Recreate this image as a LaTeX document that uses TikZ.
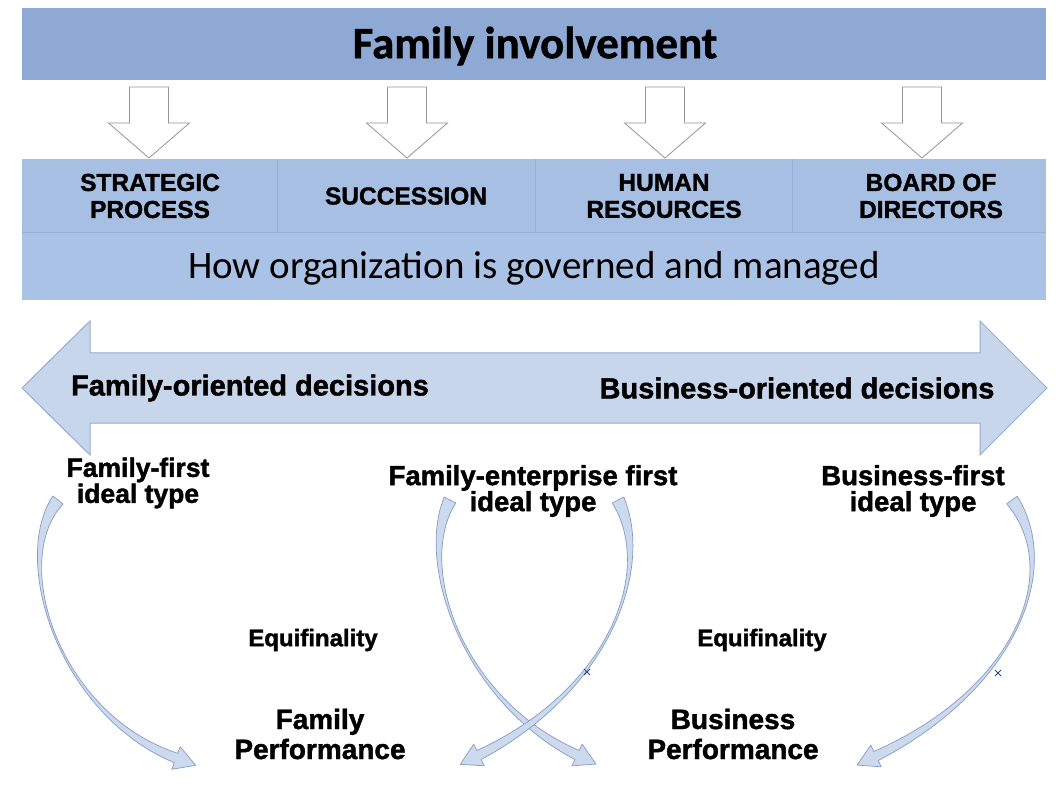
\documentclass[tikz,border=0pt]{standalone}
\usepackage{fontspec}
\setmainfont{Liberation Sans}[BoldFeatures={FakeBold=1.5}]
\newfontfamily\calib{Carlito}[BoldFeatures={FakeBold=1}]
\usetikzlibrary{calc}
\definecolor{bandA}{RGB}{142,169,212}
\definecolor{bandB}{RGB}{167,191,227}
\definecolor{bandC}{RGB}{170,194,229}
\definecolor{dfill}{RGB}{200,214,236}
\definecolor{dline}{RGB}{150,172,210}
\definecolor{cfill}{RGB}{205,218,238}
\definecolor{cline}{RGB}{130,155,200}
\definecolor{mark}{RGB}{40,70,150}
\tikzset{
  downarr/.style={fill=white,draw={rgb,255:red,150;green,150;blue,150},line width=0.8pt,line join=miter},
  dbl/.style={fill=dfill,draw=dline,line width=1pt},
  carrow/.style={fill=cfill,draw=cline,line width=0.7pt,line join=round},
  lbl/.style={font=\bfseries\fontsize{27}{26}\selectfont,align=center,inner sep=0pt},
  cell/.style={font=\bfseries\fontsize{24.5}{27}\selectfont,align=center,inner sep=0pt},
  eq/.style={font=\bfseries\fontsize{24}{24}\selectfont,inner sep=0pt},
  perf/.style={font=\bfseries\fontsize{28}{30}\selectfont,align=center,inner sep=0pt},
  xmark/.style={draw=mark,line width=1pt}
}
\newcommand\downblock[1]{%
  \draw[downarr] (#1-19.5,87) -- (#1+19.5,87) -- (#1+19.5,123) -- (#1+40.5,123)
    -- (#1,158) -- (#1-40.5,123) -- (#1-19.5,123) -- cycle;}
\newcommand\curvedblock[4]{%
  \begin{scope}
  \coordinate (p0) at #1; \coordinate (p1) at #2;
  \coordinate (p2) at #3; \coordinate (p3) at #4;
  \coordinate (l0) at ($(p0)!6.5pt!90:(p1)$);
  \coordinate (r0) at ($(p0)!6.5pt!-90:(p1)$);
  \coordinate (l3) at ($(p3)!5pt!-90:(p2)$);
  \coordinate (r3) at ($(p3)!5pt!90:(p2)$);
  \coordinate (h1) at ($(p3)!12pt!-90:(p2)$);
  \coordinate (h2) at ($(p3)!12pt!90:(p2)$);
  \coordinate (tp) at ($(p3)!-21pt!(p2)$);
  \draw[carrow] (l0) .. controls (p1) and (p2) .. (l3) -- (h1) -- (tp) -- (h2)
     -- (r3) .. controls (p2) and (p1) .. (r0) -- cycle;
  \end{scope}}
\begin{document}
\begin{tikzpicture}[x=1pt,y=-1pt]
\useasboundingbox (0,0) rectangle (1058,794);
\fill[white] (0,0) rectangle (1058,794);
% top band
\fill[bandA] (22,8) rectangle (1046,80);
\node[font=\calib\bfseries\fontsize{45}{45}\selectfont,inner sep=0pt] (fi) at (535,46) {Family involvement};
% down arrows
\downblock{149}
\downblock{407}
\downblock{665}
\downblock{922}
% cells band
\fill[bandB] (22,159) rectangle (1046,232);
\fill[bandC] (22,232) rectangle (1046,300);
\draw[dline,line width=0.8pt] (22,232) -- (1046,232);
\draw[dline,line width=0.8pt] (277,159) -- (277,232);
\draw[dline,line width=0.8pt] (535,159) -- (535,232);
\draw[dline,line width=0.8pt] (792,159) -- (792,232);
\node[cell] (c1) at (150,196) {STRATEGIC\\PROCESS};
\node[cell] (c2) at (406,196) {SUCCESSION};
\node[cell] (c3) at (664,196) {HUMAN\\RESOURCES};
\node[cell] (c4) at (931,196) {BOARD OF\\DIRECTORS};
\node[font=\calib\fontsize{39}{39}\selectfont,inner sep=0pt] (gov) at (534,268) {How organization is governed and managed};
% double arrow
\draw[dbl] (22,388) -- (90,321) -- (90,353) -- (980,353) -- (980,321) -- (1047,388)
  -- (980,455) -- (980,423) -- (90,423) -- (90,455) -- cycle;
\node[font=\bfseries\fontsize{29}{29}\selectfont,inner sep=0pt] (fod) at (250,388) {Family-oriented decisions};
\node[font=\bfseries\fontsize{29}{29}\selectfont,inner sep=0pt] (bod) at (797,388) {Business-oriented decisions};
% ideal types
\node[lbl,font=\bfseries\fontsize{26.5}{26}\selectfont] (ff) at (138,483) {Family-first\\ideal type};
\node[lbl,font=\bfseries\fontsize{27.5}{26}\selectfont] (fe) at (533,491) {Family-enterprise first\\ideal type};
\node[lbl,font=\bfseries\fontsize{27.5}{26}\selectfont] (bf) at (913,491) {Business-first\\ideal type};
% equifinality & performance
\node[eq] (eq1) at (313,640) {Equifinality};
\node[eq] (eq2) at (762,640) {Equifinality};
\node[perf] (fp) at (320,734) {Family\\Performance};
\node[perf] (bp) at (733,734) {Business\\Performance};
% curved arrows
\curvedblock{(58,500)}{(10,560)}{(58,714)}{(176,758)}
\curvedblock{(450,500)}{(416,565)}{(462,700)}{(577,755)}
\curvedblock{(618,500)}{(654,570)}{(610,690)}{(479,755)}
\curvedblock{(1012,500)}{(1064,572)}{(1014,690)}{(876,756)}
% small marks
\draw[xmark] (584,669) -- (590,675) (584,675) -- (590,669);
\draw[xmark] (995,670) -- (1001,676) (995,676) -- (1001,670);
\end{tikzpicture}
\end{document}
